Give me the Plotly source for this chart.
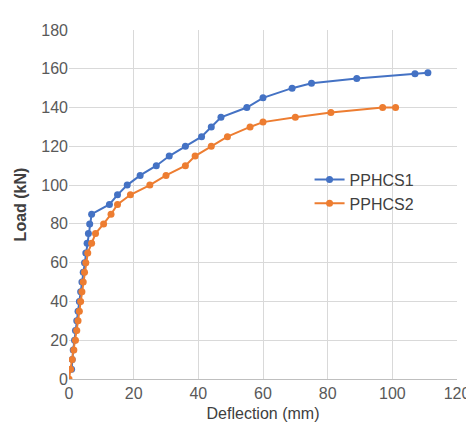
import plotly.graph_objects as go

x1 = [0.8,1,1.3,1.7,2,2.4,2.8,3.2,3.6,4,4.4,4.8,5.2,5.6,6,6.4,7,12.5,15,18,22,27,31,36,41,44,47,55,60,69,75,89,107,111]
y1 = [5,10,15,20,25,30,35,40,45,50,55,60,65,70,75,80,85,90,95,100,105,110,115,120,125,130,135,140,145,150,152.5,155,157.5,158]
x2 = [0,0.5,1,1.5,2,2.4,2.8,3.2,3.6,4,4.4,4.8,5.2,5.8,7,8.2,10.7,13,15,19,25,30,36,39,44,49,56,60,70,81,97,101]
y2 = [0,5,10,15,20,25,30,35,40,45,50,55,60,65,70,75,80,85,90,95,100,105,110,115,120,125,130,132.5,135,137.5,140,140]
names = ["PPHCS1", "PPHCS2"]

fig = go.Figure()
fig.add_trace(go.Scatter(x=x1, y=y1, name=names[0], mode="lines+markers",
    line=dict(color="#4472C4", width=2), marker=dict(size=7, color="#4472C4")))
fig.add_trace(go.Scatter(x=x2, y=y2, name=names[1], mode="lines+markers",
    line=dict(color="#ED7D31", width=2), marker=dict(size=7, color="#ED7D31")))
fig.update_layout(
    width=474, height=440, paper_bgcolor="white", plot_bgcolor="white",
    margin=dict(l=60, r=21, t=22, b=69),
    font=dict(family="Liberation Sans, Arial", size=16, color="#595959"),
    legend=dict(x=0.62, y=0.62, xanchor="left", yanchor="top", bgcolor="rgba(0,0,0,0)",
                font=dict(size=16, color="#404040")),
)
fig.update_xaxes(range=[0,120], dtick=20, showgrid=True, gridcolor="#D9D9D9", zeroline=False,
    showline=True, linecolor="#BFBFBF", ticks="", title=dict(text="Deflection (mm)", font=dict(size=16, color="#404040"), standoff=6))
fig.update_yaxes(range=[0,180], dtick=20, showgrid=True, gridcolor="#D9D9D9", zeroline=False,
    showline=False, ticks="", title=dict(text="<b>Load (kN)</b>", font=dict(size=16, color="#404040"), standoff=10))
fig.write_html("out.html")
